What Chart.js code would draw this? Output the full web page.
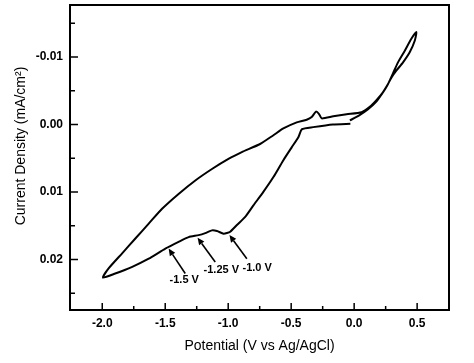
<!DOCTYPE html>
<html lang="en">
<head>
    <meta charset="UTF-8">
    <title>Cyclic voltammogram</title>
    <script src="https://cdn.jsdelivr.net/npm/chart.js"></script>
    <style>
        body {
            margin: 0;
            background: #fff;
        }
        #cv {
            display: block;
        }
    </style>
</head>
<body>
<canvas id="cv" width="474" height="363"></canvas>
<script>
// scan path, starting near 0 V going negative
const potential = [-0.03, -0.17, -0.325, -0.414, -0.443, -0.496, -0.562, -0.641, -0.721, -0.800,
    -0.865, -0.931, -0.984, -1.010, -1.037, -1.089, -1.129, -1.182, -1.235, -1.314,
    -1.394, -1.499, -1.631, -1.762, -1.897, -1.995, -1.948, -1.842, -1.737, -1.631,
    -1.525, -1.394, -1.261, -1.129, -0.998, -0.892, -0.747, -0.641, -0.562, -0.456,
    -0.377, -0.337, -0.303, -0.277, -0.258, -0.166, -0.060, 0.059, 0.124, 0.177,
    0.230, 0.269, 0.309, 0.348, 0.401, 0.454, 0.494, 0.481, 0.441, 0.388,
    0.336, 0.298, 0.263, 0.223, 0.172, 0.108, 0.037, -0.034];
const currentDensity = [-0.0001, 0.0000, 0.0004, 0.0007, 0.0019, 0.0034, 0.0053, 0.0078, 0.0100, 0.0120,
    0.0137, 0.0149, 0.0159, 0.0161, 0.0162, 0.0158, 0.0157, 0.0161, 0.0164, 0.0167,
    0.0174, 0.0184, 0.0199, 0.0211, 0.0221, 0.0227, 0.0213, 0.0191, 0.0169, 0.0147,
    0.0125, 0.0103, 0.0083, 0.0066, 0.0051, 0.0041, 0.0029, 0.0016, 0.0006, -0.0003,
    -0.0007, -0.0011, -0.0019, -0.0015, -0.0009, -0.0012, -0.0015, -0.0018, -0.0026, -0.0036,
    -0.0048, -0.0060, -0.0076, -0.0092, -0.0109, -0.0127, -0.0137, -0.0124, -0.0107, -0.0092,
    -0.0080, -0.0070, -0.0058, -0.0046, -0.0033, -0.0022, -0.0013, -0.0006];

const xTicks = [-2.0, -1.5, -1.0, -0.5, 0.0, 0.5];
const xTickLabels = ['-2.0', '-1.5', '-1.0', '-0.5', '0.0', '0.5'];
const xMinorTicks = [-1.75, -1.25, -0.75, -0.25, 0.25];
const yTicks = [-0.01, 0.0, 0.01, 0.02];
const yTickLabels = ['-0.01', '0.00', '0.01', '0.02'];
const yMinorTicks = [-0.015, -0.005, 0.005, 0.015, 0.025];

// peak markers: label, arrow tip (on the curve), arrow tail, label position
const peakLabels = ['-1.5 V', '-1.25 V', '-1.0 V'];
const arrowHeadV = [-1.473, -1.243, -0.990];
const arrowHeadJ = [0.0184, 0.0168, 0.0164];
const arrowTailV = [-1.341, -1.103, -0.852];
const arrowTailJ = [0.0221, 0.0204, 0.0199];
const labelV = [-1.349, -1.055, -0.770];
const labelJ = [0.0230, 0.0215, 0.0212];

const points = potential.map((v, i) => ({x: v, y: currentDensity[i]}));
const FONT = "'Liberation Sans', Arial, sans-serif";

function drawArrow(ctx, x1, y1, x2, y2) {
    const ang = Math.atan2(y2 - y1, x2 - x1);
    const len = 7, half = 3.2;
    ctx.beginPath();
    ctx.moveTo(x1, y1);
    ctx.lineTo(x2 - Math.cos(ang) * len, y2 - Math.sin(ang) * len);
    ctx.stroke();
    ctx.beginPath();
    ctx.moveTo(x2, y2);
    ctx.lineTo(x2 - Math.cos(ang) * len - Math.sin(ang) * half, y2 - Math.sin(ang) * len + Math.cos(ang) * half);
    ctx.lineTo(x2 - Math.cos(ang) * len + Math.sin(ang) * half, y2 - Math.sin(ang) * len - Math.cos(ang) * half);
    ctx.closePath();
    ctx.fill();
}

const decor = {
    id: 'decor',
    afterDraw(chart) {
        const {ctx, chartArea: a} = chart;
        const x = chart.scales.x, y = chart.scales.y;
        ctx.save();
        ctx.strokeStyle = '#000';
        ctx.fillStyle = '#000';

        // frame
        ctx.lineWidth = 2;
        ctx.strokeRect(a.left, a.top, a.right - a.left, a.bottom - a.top);

        // inward ticks
        ctx.lineWidth = 1.5;
        ctx.beginPath();
        xTicks.forEach(v => { const p = x.getPixelForValue(v); ctx.moveTo(p, a.bottom); ctx.lineTo(p, a.bottom - 7); });
        xMinorTicks.forEach(v => { const p = x.getPixelForValue(v); ctx.moveTo(p, a.bottom); ctx.lineTo(p, a.bottom - 4); });
        yTicks.forEach(v => { const p = y.getPixelForValue(v); ctx.moveTo(a.left, p); ctx.lineTo(a.left + 8, p); });
        yMinorTicks.forEach(v => { const p = y.getPixelForValue(v); ctx.moveTo(a.left, p); ctx.lineTo(a.left + 5, p); });
        ctx.stroke();

        // arrows + peak labels
        ctx.lineWidth = 1.6;
        ctx.font = 'bold 11px ' + FONT;
        ctx.textAlign = 'center';
        ctx.textBaseline = 'middle';
        peakLabels.forEach((t, i) => {
            drawArrow(ctx, x.getPixelForValue(arrowTailV[i]), y.getPixelForValue(arrowTailJ[i]),
                x.getPixelForValue(arrowHeadV[i]), y.getPixelForValue(arrowHeadJ[i]));
            ctx.fillText(t, x.getPixelForValue(labelV[i]), y.getPixelForValue(labelJ[i]));
        });

        // y axis title
        ctx.translate(21, 146);
        ctx.rotate(-Math.PI / 2);
        ctx.font = '14px ' + FONT;
        ctx.fillText('Current Density (mA/cm²)', 0, 0);
        ctx.restore();
    }
};

new Chart(document.getElementById('cv'), {
    type: 'scatter',
    data: {
        datasets: [{
            data: points,
            showLine: true,
            borderColor: '#000',
            borderWidth: 2,
            pointRadius: 0,
            tension: 0.2,
            fill: false
        }]
    },
    options: {
        responsive: false,
        animation: false,
        layout: {padding: {top: 5, right: 25, left: 0, bottom: 0}},
        plugins: {legend: {display: false}, tooltip: {enabled: false}},
        scales: {
            x: {
                type: 'linear',
                min: -2.256,
                max: 0.753,
                afterFit: s => { s.height = 53; s.paddingLeft = 0; s.paddingRight = 0; },
                afterBuildTicks: s => { s.ticks = xTicks.map(v => ({value: v})); },
                grid: {display: false, drawTicks: false},
                border: {display: false},
                ticks: {
                    color: '#000',
                    padding: 6,
                    font: {family: FONT, size: 12, weight: 'bold'},
                    callback: (v, i) => xTickLabels[i]
                },
                title: {
                    display: true,
                    text: 'Potential (V vs Ag/AgCl)',
                    color: '#000',
                    font: {family: FONT, size: 14},
                    padding: {top: 0, bottom: 8}
                }
            },
            y: {
                type: 'linear',
                reverse: true,
                min: -0.0177,
                max: 0.0275,
                afterFit: s => { s.width = 70; s.paddingTop = 0; s.paddingBottom = 0; },
                afterBuildTicks: s => { s.ticks = yTicks.map(v => ({value: v})); },
                grid: {display: false, drawTicks: false},
                border: {display: false},
                ticks: {
                    color: '#000',
                    padding: 7,
                    font: {family: FONT, size: 12, weight: 'bold'},
                    callback: (v, i) => yTickLabels[i]
                }
            }
        }
    },
    plugins: [decor]
});
</script>
</body>
</html>
